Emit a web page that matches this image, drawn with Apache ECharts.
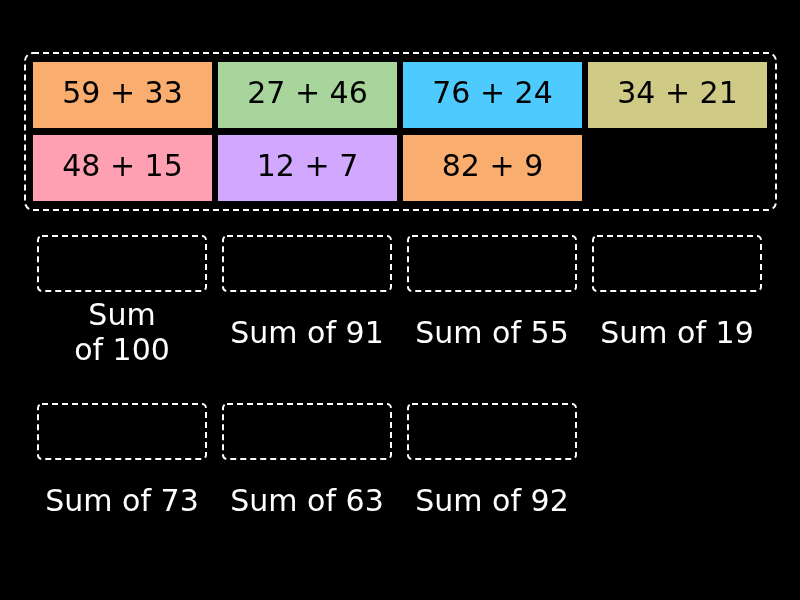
<!DOCTYPE html>
<html><head><meta charset="utf-8">
<script src="https://cdn.jsdelivr.net/npm/echarts@6/dist/echarts.min.js"></script>
<style>html,body{margin:0;background:#000}#c{width:800px;height:600px}</style>
</head><body><div id="c"></div>
<script>
const tiles = ["59 + 33","27 + 46","76 + 24","34 + 21","48 + 15","12 + 7","82 + 9"];
const tileColors = ["#F9AE6F","#A8D59C","#4DCBFF","#CFCB86","#FFA0B2","#D2A8FF","#F9AE6F"];
const targets = ["Sum\nof 100","Sum of 91","Sum of 55","Sum of 19","Sum of 73","Sum of 63","Sum of 92"];
const FONT = "'Comic Sans MS','DejaVu Sans',sans-serif";
const chart = echarts.init(document.getElementById('c'));
const g = [];
g.push({type:'rect',shape:{x:25,y:53,width:751,height:157,r:8},style:{fill:'none',stroke:'#fff',lineWidth:2,lineDash:[6,4]}});
tiles.forEach((t,i)=>{
  const col=i%4,row=Math.floor(i/4);
  const x=33+col*185,y=62+row*73;
  g.push({type:'rect',shape:{x:x,y:y,width:179,height:66},style:{fill:tileColors[i]}});
  g.push({type:'text',x:x+89.5,y:y+33,style:{text:t,fill:'#000',font:'30px '+FONT,align:'center',verticalAlign:'middle'}});
});
targets.forEach((t,i)=>{
  const col=i%4,row=Math.floor(i/4);
  const x=38+col*185,y=236+row*168;
  g.push({type:'rect',shape:{x:x,y:y,width:168,height:55,r:4},style:{fill:'none',stroke:'#fff',lineWidth:2,lineDash:[6,4]}});
  g.push({type:'text',x:x+84,y:y+99,style:{text:t,fill:'#fff',font:'30px '+FONT,align:'center',verticalAlign:'middle',lineHeight:35}});
});
chart.setOption({backgroundColor:'#000',graphic:g});
</script></body></html>
